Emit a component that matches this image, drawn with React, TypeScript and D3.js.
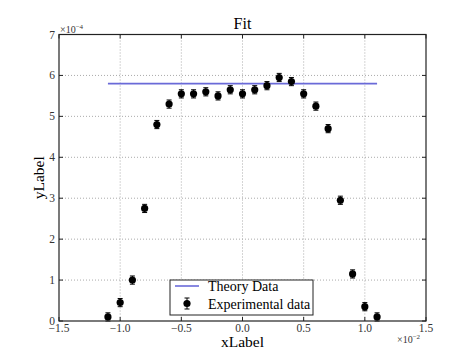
import React from "react";
import * as d3 from "d3";

const xValues = [-1.1, -1.0, -0.9, -0.8, -0.7, -0.6, -0.5, -0.4, -0.3, -0.2, -0.1, 0.0, 0.1, 0.2, 0.3, 0.4, 0.5, 0.6, 0.7, 0.8, 0.9, 1.0, 1.1];
const yValues = [0.1, 0.45, 1.0, 2.75, 4.8, 5.3, 5.55, 5.55, 5.6, 5.5, 5.65, 5.55, 5.65, 5.75, 5.95, 5.85, 5.55, 5.25, 4.7, 2.95, 1.15, 0.35, 0.1];
const yErrors = [0.1, 0.1, 0.1, 0.1, 0.1, 0.1, 0.1, 0.1, 0.1, 0.1, 0.1, 0.1, 0.1, 0.1, 0.1, 0.1, 0.1, 0.1, 0.1, 0.1, 0.1, 0.1, 0.1];
const theoryX = [-1.1, 1.1];
const theoryY = [5.8, 5.8];
const xTicks = [-1.5, -1.0, -0.5, 0.0, 0.5, 1.0, 1.5];
const yTicks = [0, 1, 2, 3, 4, 5, 6, 7];
const legendLabels = ["Theory Data", "Experimental data"];

const W = 474;
const H = 357;
const L = 59, R = 426, T = 34.5, B = 321;
const FONT = "'Liberation Serif', 'DejaVu Serif', serif";
const BLUE = "#6a6ad8";

export default function App() {
  const x = d3.scaleLinear().domain([-1.5, 1.5]).range([L, R]);
  const y = d3.scaleLinear().domain([0, 7]).range([B, T]);
  const fmtX = (v: number) => (v < 0 ? "\u2212" : "") + Math.abs(v).toFixed(1);
  const line = d3.line<number>().x((d, i) => x(theoryX[i])).y((d) => y(d));
  const tl = 4;

  return (
    <div style={{ position: "absolute", left: 0, top: 0 }}>
      <svg width={W} height={H} style={{ display: "block", background: "#fff" }} fontFamily={FONT}>
        {/* grid */}
        {xTicks.slice(1, -1).map((t) => (
          <line key={"gx" + t} x1={x(t)} x2={x(t)} y1={T} y2={B} stroke="#aaa" strokeWidth={1} strokeDasharray="1,2" />
        ))}
        {yTicks.slice(1, -1).map((t) => (
          <line key={"gy" + t} x1={L} x2={R} y1={y(t)} y2={y(t)} stroke="#aaa" strokeWidth={1} strokeDasharray="1,2" />
        ))}
        {/* theory line */}
        <path d={line(theoryY) || ""} stroke={BLUE} strokeWidth={1.6} fill="none" />
        {/* error bars and points */}
        {xValues.map((xv, i) => {
          const cx = x(xv);
          const y1 = y(yValues[i] - yErrors[i]);
          const y2 = y(yValues[i] + yErrors[i]);
          return (
            <g key={"p" + i}>
              <line x1={cx} x2={cx} y1={y1} y2={y2} stroke="#000" strokeWidth={1} />
              <line x1={cx - 2.5} x2={cx + 2.5} y1={y1} y2={y1} stroke="#000" strokeWidth={1} />
              <line x1={cx - 2.5} x2={cx + 2.5} y1={y2} y2={y2} stroke="#000" strokeWidth={1} />
              <circle cx={cx} cy={y(yValues[i])} r={3.6} fill="#000" />
            </g>
          );
        })}
        {/* frame */}
        <rect x={L} y={T} width={R - L} height={B - T} fill="none" stroke="#222" strokeWidth={1.2} />
        {/* ticks */}
        {xTicks.map((t) => (
          <g key={"tx" + t}>
            <line x1={x(t)} x2={x(t)} y1={B} y2={B - tl} stroke="#222" />
            <line x1={x(t)} x2={x(t)} y1={T} y2={T + tl} stroke="#222" />
            <text x={x(t)} y={B + 11} textAnchor="middle" fontSize={11.5} fill="#333">{fmtX(t)}</text>
          </g>
        ))}
        {yTicks.map((t) => (
          <g key={"ty" + t}>
            <line x1={L} x2={L + tl} y1={y(t)} y2={y(t)} stroke="#222" />
            <line x1={R} x2={R - tl} y1={y(t)} y2={y(t)} stroke="#222" />
            <text x={L - 4} y={y(t) + 4} textAnchor="end" fontSize={11.5} fill="#333">{t}</text>
          </g>
        ))}
        {/* offset labels */}
        <text x={L + 1} y={T - 2} fontSize={10} fill="#333">
          {"\u00d710"}
          <tspan dy={-4} fontSize={7}>{"\u22124"}</tspan>
        </text>
        <text x={397} y={343} fontSize={10} fill="#333">
          {"\u00d710"}
          <tspan dy={-4} fontSize={7}>{"\u22122"}</tspan>
        </text>
        {/* title and axis labels */}
        <text x={(L + R) / 2} y={T - 6} textAnchor="middle" fontSize={16} fill="#000">Fit</text>
        <text x={(L + R) / 2} y={347} textAnchor="middle" fontSize={15.5} fill="#000">xLabel</text>
        <text transform={`translate(${44},${(T + B) / 2}) rotate(-90)`} textAnchor="middle" fontSize={15.5} fill="#000">yLabel</text>
        {/* legend */}
        <g>
          <rect x={170} y={280} width={143} height={35} fill="#fff" stroke="#222" strokeWidth={1} />
          <line x1={175} x2={199} y1={286} y2={286} stroke={BLUE} strokeWidth={1.6} />
          <text x={208} y={291} fontSize={14} fill="#000">{legendLabels[0]}</text>
          <line x1={187} x2={187} y1={298} y2={309} stroke="#000" />
          <line x1={184.5} x2={189.5} y1={298} y2={298} stroke="#000" />
          <line x1={184.5} x2={189.5} y1={309} y2={309} stroke="#000" />
          <circle cx={187} cy={303.5} r={3.6} fill="#000" />
          <text x={208} y={308.5} fontSize={14} fill="#000">{legendLabels[1]}</text>
        </g>
      </svg>
    </div>
  );
}
